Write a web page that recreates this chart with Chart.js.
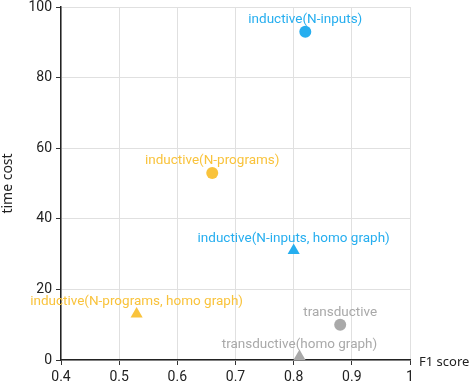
<!DOCTYPE html>
<html>
<head>
<meta charset="utf-8">
<script src="https://cdn.jsdelivr.net/npm/chart.js@4"></script>
<style>
  html, body { margin: 0; padding: 0; background: #fff; }
  #wrap { width: 474px; height: 387px; }
</style>
</head>
<body>
<div id="wrap"><canvas id="scatterChart"></canvas></div>
<script>
// methods, in groups of two: plain graph first, homo graph second
const methodNames = [
  'inductive(N-inputs)', 'inductive(N-inputs, homo graph)',
  'inductive(N-programs)', 'inductive(N-programs, homo graph)',
  'transductive', 'transductive(homo graph)'
];
const f1Scores = [0.82, 0.80, 0.66, 0.53, 0.88, 0.81];
const timeCosts = [93, 31, 53, 13, 10, 1];
const xTicks = [0.4, 0.5, 0.6, 0.7, 0.8, 0.9, 1];
const yTicks = [0, 20, 40, 60, 80, 100];

const groupColors = ['#26aeef', '#f9c33c', '#a9a9a9'];

const datasets = groupColors.map((color, g) => ({
  label: methodNames[g * 2],
  data: [0, 1].map(k => ({ x: f1Scores[g * 2 + k], y: timeCosts[g * 2 + k], name: methodNames[g * 2 + k] })),
  pointStyle: ['circle', 'triangle'],
  pointRadius: [6, 7],
  pointHoverRadius: [6, 7],
  backgroundColor: color,
  borderColor: color,
  borderWidth: 0
}));

const pointLabels = {
  id: 'pointLabels',
  afterDatasetsDraw(chart) {
    const ctx = chart.ctx;
    ctx.save();
    ctx.font = '13.5px Roboto';
    ctx.textAlign = 'center';
    ctx.textBaseline = 'middle';
    chart.data.datasets.forEach((ds, i) => {
      chart.getDatasetMeta(i).data.forEach((pt, j) => {
        ctx.fillStyle = ds.backgroundColor;
        ctx.fillText(ds.data[j].name, pt.x, pt.y - 12);
      });
    });
    // x axis name at the end of the axis
    const area = chart.chartArea;
    ctx.fillStyle = '#222';
    ctx.textAlign = 'left';
    ctx.font = '13px "Noto Sans"';
    ctx.fillText('F1 score', area.right + 9, area.bottom + 2);
    ctx.restore();
  }
};

new Chart(document.getElementById('scatterChart'), {
  type: 'scatter',
  data: { datasets: datasets },
  options: {
    responsive: true,
    maintainAspectRatio: false,
    animation: false,
    layout: { padding: { top: 0, right: 64, left: 0, bottom: 0 } },
    plugins: {
      legend: { display: false },
      tooltip: { enabled: false }
    },
    scales: {
      x: {
        type: 'linear',
        min: 0.4,
        max: 1,
        afterBuildTicks: s => { s.ticks = xTicks.map(v => ({ value: v })); },
        afterFit: s => { s.height = 27; },
        ticks: {
          color: '#222',
          font: { family: 'Roboto', size: 14 },
          padding: 4,
          callback: v => String(v)
        },
        grid: { color: '#e0e0e0', tickColor: '#333', tickLength: 5 },
        border: { color: '#222', width: 1.5 }
      },
      y: {
        type: 'linear',
        min: 0,
        max: 100,
        afterBuildTicks: s => { s.ticks = yTicks.map(v => ({ value: v })); },
        afterFit: s => { s.width = 61; s.paddingTop = 7; s.paddingBottom = 0; },
        ticks: {
          color: '#222',
          font: { family: 'Roboto', size: 14 },
          padding: 4
        },
        title: {
          display: true,
          text: 'time cost',
          color: '#222',
          font: { family: 'Noto Sans', size: 14 },
          padding: 0
        },
        grid: { color: '#e0e0e0', tickColor: '#333', tickLength: 5 },
        border: { color: '#222', width: 1.5 }
      }
    }
  },
  plugins: [pointLabels]
});
</script>
</body>
</html>
